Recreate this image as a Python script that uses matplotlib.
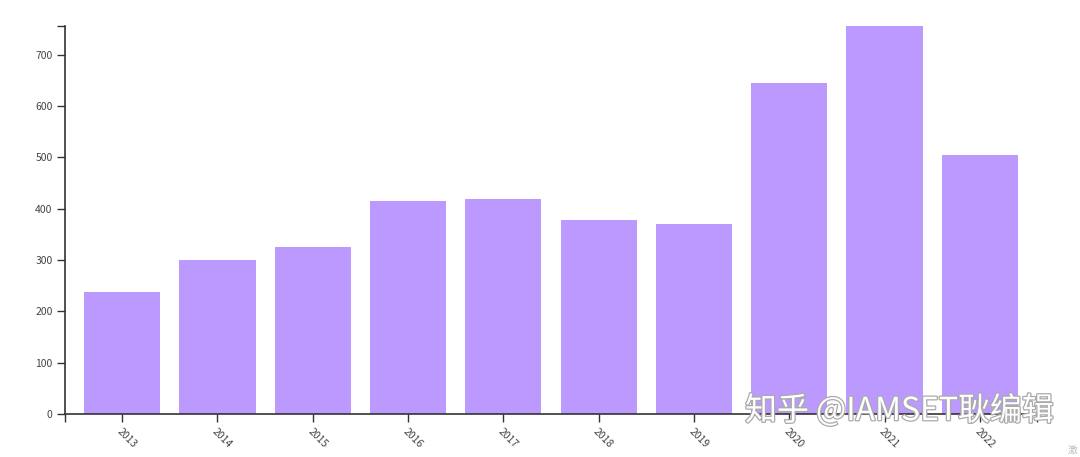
import matplotlib
matplotlib.use("Agg")
from matplotlib import pyplot as plt
import matplotlib.patheffects as pe

years = ["2013", "2014", "2015", "2016", "2017", "2018", "2019", "2020", "2021", "2022"]
counts = [238, 300, 325, 415, 419, 378, 371, 645, 756, 505]
yticks = [0, 100, 200, 300, 400, 500, 600, 700]

plt.rcParams['font.family'] = ['Noto Sans CJK SC', 'DejaVu Sans']

figure = plt.figure(figsize=(10.8, 4.57), dpi=100)
axes = figure.add_axes([65 / 1080, 43 / 457, (1037 - 65) / 1080, (414 - 26) / 457])

xs = list(range(len(years)))
axes.bar(xs, counts, width=0.8, color="#bb99ff")

axes.set_xlim(-0.6, len(years) - 0.4)
axes.set_ylim(0, max(counts))

for side in ["top", "right"]:
    axes.spines[side].set_visible(False)
for side in ["left", "bottom"]:
    axes.spines[side].set_color("#333333")
    axes.spines[side].set_linewidth(1.2)

axes.set_yticks(yticks)
axes.set_yticklabels([str(t) for t in yticks])
axes.set_xticks(xs)
axes.set_xticklabels(years, rotation=-45, ha="left", va="top", rotation_mode="anchor")
axes.tick_params(axis="both", length=6, width=1, color="#333333", labelsize=7.5, labelcolor="#444444", pad=3)

# outer ticks at the ends of each axis, like a d3 domain path
axes.set_yticks([max(counts)], minor=True)
axes.set_xticks([-0.6, len(years) - 0.4], minor=True)
axes.tick_params(which="minor", length=6, width=1, color="#333333")

figure.text(745 / 1080, (457 - 411) / 457, "知乎 @IAMSET耿编辑", fontsize=23, color="white",
            va="center", ha="left",
            path_effects=[pe.withStroke(linewidth=1.8, foreground="#aaaaaa")])
figure.text(1068 / 1080, (457 - 450) / 457, "激", fontsize=7, color="#bbbbbb", va="center", ha="left")

figure.savefig("out.png", dpi=100)
